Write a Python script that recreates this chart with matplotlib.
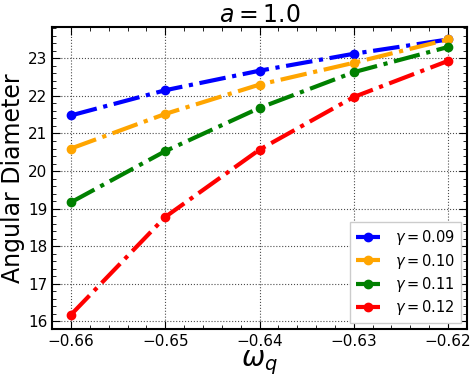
import numpy as np
import matplotlib
matplotlib.use("Agg")
import matplotlib.pyplot as plt
from matplotlib.ticker import AutoMinorLocator

omega = [-0.66, -0.65, -0.64, -0.63, -0.62]
gammas = ["0.09", "0.10", "0.11", "0.12"]
colors = ["blue", "orange", "green", "red"]
d_009 = [21.48, 22.15, 22.67, 23.12, 23.50]
d_010 = [20.60, 21.52, 22.30, 22.88, 23.50]
d_011 = [19.17, 20.53, 21.68, 22.63, 23.30]
d_012 = [16.18, 18.78, 20.57, 21.97, 22.93]
series = [d_009, d_010, d_011, d_012]

fig, ax = plt.subplots(figsize=(4.74, 3.76), dpi=100)
for g, c, d in zip(gammas, colors, series):
    ax.plot(omega, d, '-.', color=c, lw=3, marker='o', ms=6,
            label=r'$\gamma = %s$' % g)

ax.set_xlim(-0.662, -0.618)
ax.set_ylim(15.8, 23.83)
ax.set_xticks(omega)
ax.set_xticklabels(['−0.66', '−0.65', '−0.64', '−0.63', '−0.62'])
ax.xaxis.set_minor_locator(AutoMinorLocator(5))
ax.yaxis.set_minor_locator(AutoMinorLocator(5))
ax.tick_params(which='both', direction='in', top=True, right=True, labelsize=11)
ax.tick_params(which='major', length=6)
ax.tick_params(which='minor', length=3)
for s in ax.spines.values():
    s.set_linewidth(1.5)
ax.grid(True, ls=':', color='0.3', lw=0.8)
ax.set_xlabel(r'$\omega_q$', fontsize=20, labelpad=0)
ax.set_ylabel('Angular Diameter', fontsize=17, labelpad=2)
ax.set_title(r'$a = 1.0$', fontsize=17, pad=4)
ax.legend(loc='lower right', fontsize=10.5, fancybox=False, framealpha=1,
          edgecolor='0.8', labelspacing=0.3, handlelength=1.7,
          handletextpad=1.0, borderaxespad=0.4)
fig.subplots_adjust(left=0.11, right=0.985, top=0.928, bottom=0.125)
fig.savefig('out.png')
